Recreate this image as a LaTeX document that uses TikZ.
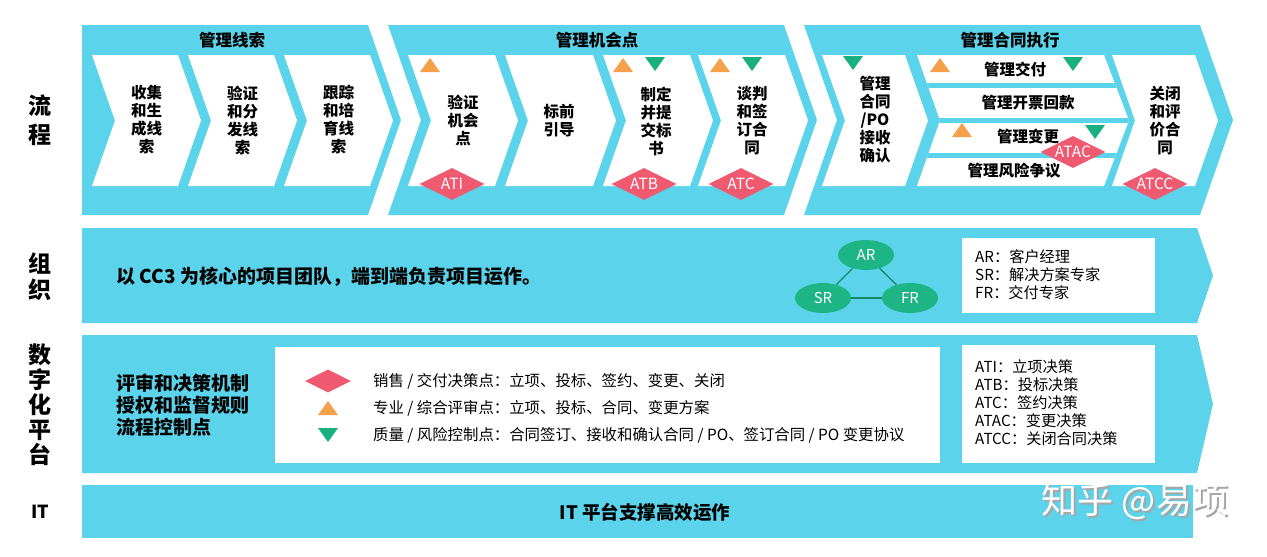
\documentclass[tikz,border=0pt]{standalone}
\usepackage{fontspec}
\setmainfont{Noto Sans CJK SC}
\usepackage{tikz}
\usetikzlibrary{calc}
\usetikzlibrary{shapes}

% chevron: [colour] left, right, top, bottom (notch and tip 23)
\newcommand{\chevfill}[5][white]{%
  \fill[#1] (#2,#4) -- (#3,#4) -- ({#3+23},{(#4+#5)/2}) -- (#3,#5) -- (#2,#5) -- ({#2+23},{(#4+#5)/2}) -- cycle;}
% review point (up) and control point (down)
\newcommand{\revtri}[2]{\fill[revorange] ({#1-10},{#2+7}) -- ({#1+10},{#2+7}) -- (#1,{#2-7}) -- cycle;}
\newcommand{\ctltri}[2]{\fill[ctlgreen] ({#1-10},{#2-7}) -- ({#1+10},{#2-7}) -- (#1,{#2+7}) -- cycle;}

\begin{document}
\begin{tikzpicture}[x=1pt,y=-1pt]
        \definecolor{bandblue}{HTML}{5BD3EA}
        \definecolor{decidered}{HTML}{F05A70}
        \definecolor{revorange}{HTML}{F5A04B}
        \definecolor{ctlgreen}{HTML}{18B07E}
        \definecolor{rolegreen}{HTML}{1DB583}
        \tikzstyle{every node}=[inner sep=0pt,text=black]
        \tikzset{
          chevtext/.style={align=center,font=\fontsize{15.5}{18}\selectfont\bfseries},
          headtext/.style={font=\fontsize{16.5}{20}\selectfont\bfseries},
          bartext/.style={font=\fontsize{15.5}{18}\selectfont\bfseries},
          sidetext/.style={align=center,font=\fontsize{23}{26}\selectfont\bfseries},
          rowtext/.style={anchor=west,align=left,font=\fontsize{19}{22}\selectfont\bfseries},
          keytext/.style={anchor=west,font=\fontsize{15.4}{18}\selectfont},
          boxtext/.style={anchor=north west,align=left,font=\fontsize{15.2}{18}\selectfont},
          dlabel/.style={text=white,font=\fontsize{15.5}{18}\selectfont},
          decide/.style={diamond,aspect=2,fill=decidered,minimum width=65pt,minimum height=32pt},
          role/.style={ellipse,fill=rolegreen,minimum width=56pt,minimum height=30pt,text=white,font=\fontsize{15}{16}\selectfont},
          roleline/.style={draw=rolegreen!75!black,line width=1.3pt}
        }
        \useasboundingbox (0,0) rectangle (1267,557);

        % process sections
        \fill[bandblue] (82,25) -- (368,25) -- (401,120) -- (368,215) -- (82,215) -- cycle;
        \fill[bandblue] (388,25) -- (784,25) -- (817,120) -- (784,215) -- (388,215) -- (421,120) -- cycle;
        \fill[bandblue] (804,25) -- (1200,25) -- (1233,120) -- (1200,215) -- (804,215) -- (837,120) -- cycle;

        \node[headtext] (h1) at (232,40) {管理线索};
        \node[headtext] (h2) at (597,40) {管理机会点};
        \node[headtext] (h3) at (1010,40) {管理合同执行};

        \chevfill{92}{178}{55}{186}
        \chevfill{188}{274}{55}{186}
        \chevfill{284}{370}{55}{186}
        \chevfill{408}{495}{55}{186}
        \chevfill{505}{593}{55}{186}
        \chevfill{603}{690}{55}{186}
        \chevfill{698}{785}{55}{186}
        \chevfill{822}{905}{55}{186}
        \chevfill{1112}{1195}{55}{186}
        \begin{scope}
          \clip (917,55) -- (1104,55) -- (1129,120.5) -- (1104,186) -- (917,186) -- (940,120.5) -- cycle;
          \fill[white] (900,50) rectangle (1140,190);
          \fill[bandblue] (900,83) rectangle (1140,88);
          \fill[bandblue] (900,118) rectangle (1140,123);
          \fill[bandblue] (900,153) rectangle (1140,158);
        \end{scope}

        \node[chevtext] (c1) at (146.5,120) {收集\\和生\\成线\\索};
        \node[chevtext] (c2) at (242.5,120) {验证\\和分\\发线\\索};
        \node[chevtext] (c3) at (338.5,120) {跟踪\\和培\\育线\\索};
        \node[chevtext] (c4) at (463,120) {验证\\机会\\点};
        \node[chevtext] (c5) at (559,121) {标前\\引导};
        \node[chevtext] (c6) at (656,121) {制定\\并提\\交标\\书};
        \node[chevtext] (c7) at (752,121) {谈判\\和签\\订合\\同};
        \node[chevtext] (c8) at (875,120) {管理\\合同\\/PO\\接收\\确认};
        \node[chevtext] (c9) at (1165,121) {关闭\\和评\\价合\\同};
        \node[bartext] (b1) at (1015,70) {管理交付};
        \node[bartext] (b2) at (1028,103) {管理开票回款};
        \node[bartext] (b3) at (1028,137) {管理变更};
        \node[bartext] (b4) at (1014,171) {管理风险争议};

        \revtri{430}{65}
        \revtri{623}{65}
        \ctltri{655}{64}
        \revtri{720}{65}
        \ctltri{752}{64}
        \ctltri{853}{63}
        \revtri{940}{65}
        \ctltri{1073}{64}
        \revtri{962}{130}
        \ctltri{1095}{132}

        \node[decide,label={[dlabel]center:ATI}] (ati) at (452,184) {};
        \node[decide,label={[dlabel]center:ATB}] (atb) at (644,184) {};
        \node[decide,label={[dlabel]center:ATC}] (atc) at (741,184) {};
        \node[decide,label={[dlabel]center:ATAC}] (atac) at (1073,152) {};
        \node[decide,label={[dlabel]center:ATCC}] (atcc) at (1155,184) {};

        % organisation
        \fill[bandblue] (82,228) -- (1197,228) -- (1213,275.5) -- (1197,323) -- (82,323) -- cycle;
        \node[rowtext] (team) at (116,277) {以 CC3 为核心的项目团队，端到端负责项目运作。};
        \node[role] (ar) at (866,255) {AR};
        \node[role] (sr) at (823,298) {SR};
        \node[role] (fr) at (910,298) {FR};
        \draw[roleline] (ar) -- (sr);
        \draw[roleline] (ar) -- (fr);
        \draw[roleline] (sr) -- (fr);
        \fill[white] (962,238) rectangle (1155,313);
        \node[boxtext] (roles) at (975,249) {AR：客户经理\\SR：解决方案专家\\FR：交付专家};

        % digital platform
        \fill[bandblue] (82,335) -- (1197,335) -- (1213,404) -- (1197,473) -- (82,473) -- cycle;
        \node[rowtext] (rules) at (116,405) {评审和决策机制\\授权和监督规则\\流程控制点};
        \fill[white] (275,347) rectangle (940,463);
        \node[decide,minimum width=46pt,minimum height=23pt] (kd) at (328,381) {};
        \revtri{328}{408}
        \ctltri{328}{435}
        \node[keytext] (k1) at (373,381) {销售 / 交付决策点：立项、投标、签约、变更、关闭};
        \node[keytext] (k2) at (373,408) {专业 / 综合评审点：立项、投标、合同、变更方案};
        \node[keytext] (k3) at (373,435) {质量 / 风险控制点：合同签订、接收和确认合同 / PO、签订合同 / PO 变更协议};
        \fill[white] (962,345) rectangle (1155,463);
        \node[boxtext] (codes) at (975,359) {ATI：立项决策\\ATB：投标决策\\ATC：签约决策\\ATAC：变更决策\\ATCC：关闭合同决策};

        % IT
        \fill[bandblue] (82,485) rectangle (1193,538);
        \node[font=\fontsize{18.5}{20}\selectfont\bfseries] (it) at (645,512) {IT 平台支撑高效运作};

        % row labels
        \node[sidetext,font=\fontsize{23}{29}\selectfont\bfseries] (l1) at (40,120) {流\\程};
        \node[sidetext] (l2) at (40,277) {组\\织};
        \node[sidetext,font=\fontsize{23}{25}\selectfont\bfseries] (l3) at (40,405) {数\\字\\化\\平\\台};
        \node[font=\fontsize{18}{20}\selectfont\bfseries] (l4) at (40,512) {IT};

        % mark
        \node[font=\fontsize{36}{38}\selectfont,text=gray!70] (mks) at (1137,503) {知乎 @易项};
        \node[font=\fontsize{36}{38}\selectfont,text=white] (mk) at (1135,501) {知乎 @易项};
\end{tikzpicture}
\end{document}
